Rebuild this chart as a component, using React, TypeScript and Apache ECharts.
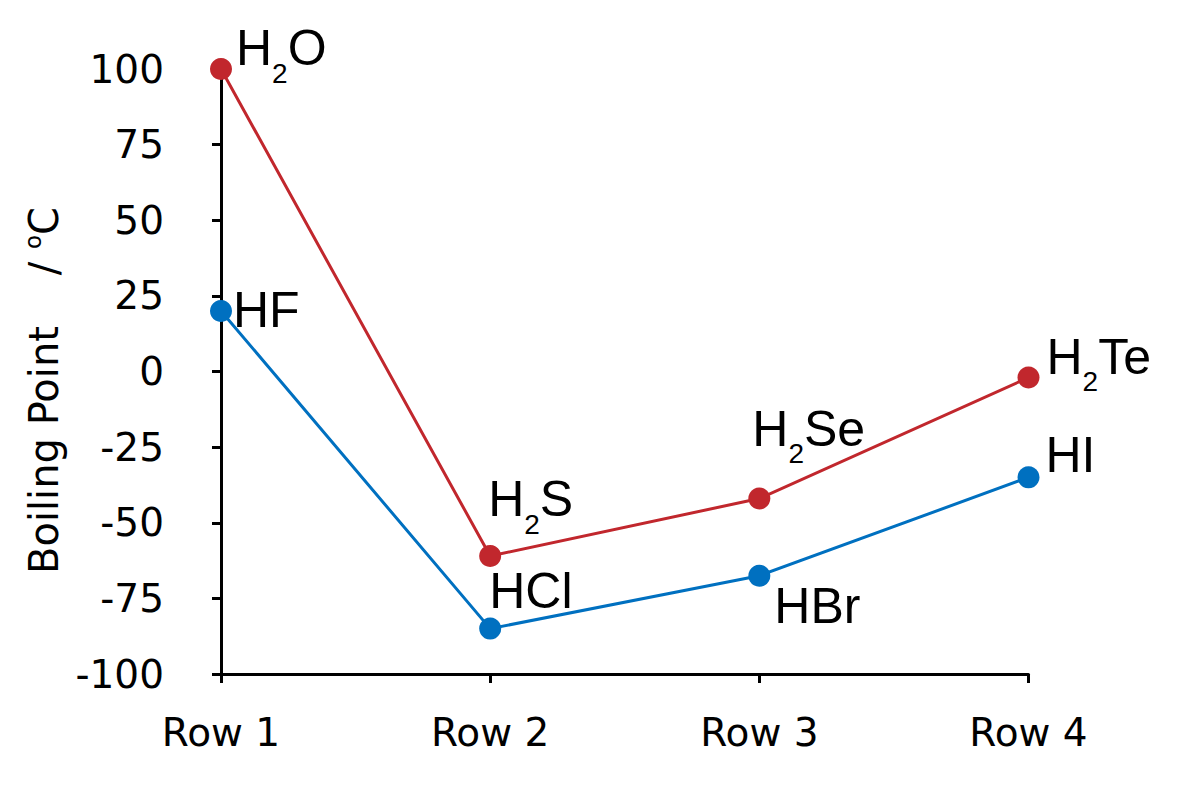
import { useEffect, useRef } from "react";
import * as echarts from "echarts";

// periods along the x axis
const rows = ["Row 1", "Row 2", "Row 3", "Row 4"];

// group 16 hydrides (red)
const group16Names = ["H{s|2}O", "H{s|2}S", "H{s|2}Se", "H{s|2}Te"];
const group16Values = [100, -61, -42, -2];

// group 17 hydrides (blue)
const group17Names = ["HF", "HCl", "HBr", "HI"];
const group17Values = [20, -85, -67.5, -35];

// y axis ticks
const yMin = -100;
const yMax = 100;
const yStep = 25;

// label offsets from each point centre, px
const group16Offsets = [
  [15, -21],
  [-2, -57],
  [-7, -70],
  [18, -21],
];
const group17Offsets = [
  [12, -1],
  [-1, -38],
  [15, 30],
  [17, -22],
];

const RED = "#C1272D";
const BLUE = "#0070C0";
const LABEL_FONT = "Liberation Sans";
const AXIS_FONT = "DejaVu Sans";
const NBSP = "\u00A0";

const pointLabel = {
  show: true,
  position: "inside",
  align: "left",
  verticalAlign: "middle",
  fontFamily: LABEL_FONT,
  fontSize: 50,
  color: "#000",
  textBorderWidth: 0,
  rich: {
    s: {
      fontFamily: LABEL_FONT,
      fontSize: 28,
      color: "#000",
      verticalAlign: "middle",
      padding: [50, 0, 0, 0],
    },
  },
};

function makeSeries(
  name: string,
  color: string,
  values: number[],
  labels: string[],
  offsets: number[][]
) {
  return {
    name,
    type: "line",
    data: values.map((v, i) => ({
      value: v,
      label: { formatter: labels[i], offset: offsets[i] },
    })),
    symbol: "circle",
    symbolSize: 22,
    lineStyle: { width: 3, color },
    itemStyle: { color },
    label: pointLabel,
    emphasis: { disabled: true },
  };
}

export default function App() {
  const chartRef = useRef<HTMLDivElement>(null);

  useEffect(() => {
    document.body.style.margin = "0";
    if (!chartRef.current) return;
    const chart = echarts.init(chartRef.current, undefined, { renderer: "svg" });

    chart.setOption({
      animation: false,
      backgroundColor: "#fff",
      grid: { left: 221, right: 171.5, top: 69, bottom: 124, containLabel: false },
      xAxis: {
        type: "category",
        data: rows,
        boundaryGap: false,
        axisLine: { onZero: false, lineStyle: { color: "#000", width: 3 } },
        axisTick: { show: true, length: 9, lineStyle: { color: "#000", width: 3 } },
        axisLabel: {
          margin: 39,
          fontFamily: AXIS_FONT,
          fontSize: 39,
          color: "#000",
        },
        splitLine: { show: false },
      },
      yAxis: {
        type: "value",
        min: yMin,
        max: yMax,
        interval: yStep,
        name: `Boiling Point${NBSP.repeat(4)}/ {sup|o}C`,
        nameLocation: "middle",
        nameRotate: 90,
        nameGap: 155,
        nameTextStyle: {
          fontFamily: AXIS_FONT,
          fontSize: 40,
          color: "#000",
          padding: [0, 38, 0, 0],
          rich: {
            sup: {
              fontFamily: AXIS_FONT,
              fontSize: 23,
              color: "#000",
              padding: [0, 0, 22, 0],
            },
          },
        },
        axisLine: { show: true, onZero: false, lineStyle: { color: "#000", width: 3 } },
        axisTick: { show: true, length: 9, lineStyle: { color: "#000", width: 3 } },
        axisLabel: {
          margin: 57,
          fontFamily: AXIS_FONT,
          fontSize: 39,
          color: "#000",
        },
        splitLine: { show: false },
      },
      series: [
        makeSeries("Group 16", RED, group16Values, group16Names, group16Offsets),
        makeSeries("Group 17", BLUE, group17Values, group17Names, group17Offsets),
      ],
    });

    return () => chart.dispose();
  }, []);

  return <div ref={chartRef} style={{ width: 1200, height: 798 }} />;
}
